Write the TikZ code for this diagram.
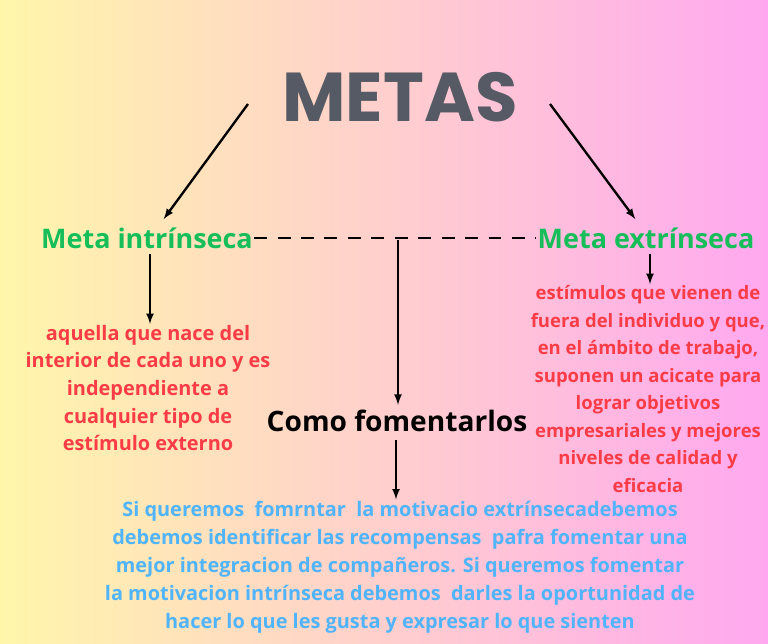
\documentclass[tikz,border=0pt]{standalone}
\usepackage{fontspec}
\setmainfont{Open Sans}
\newfontfamily\titlefont{Poppins}
\usetikzlibrary{positioning}
\definecolor{metagreen}{RGB}{22,190,90}
\definecolor{metared}{RGB}{250,60,70}
\definecolor{metablue}{RGB}{80,180,250}
\definecolor{titlegray}{RGB}{85,90,100}
\tikzset{>=latex}
\tikzset{
  head/.style={font=\bfseries\fontsize{23}{26}\selectfont, text=metagreen, inner sep=1pt},
  redtxt/.style={font=\bfseries\fontsize{17}{23.5}\selectfont, text=metared, align=center, inner sep=0pt},
  bluetxt/.style={font=\bfseries\fontsize{17}{24}\selectfont, text=metablue, align=center, inner sep=0pt},
  arr/.style={->, line width=2pt, shorten >=1pt}
}
\begin{document}
\begin{tikzpicture}[x=0.03cm, y=-0.03cm]
\shade[left color={rgb,255:red,255;green,246;blue,170}, right color={rgb,255:red,255;green,168;blue,240}] (0,0) rectangle (768,643);
\useasboundingbox (0,0) rectangle (768,643);

\node[font=\titlefont\bfseries\fontsize{59}{62}\selectfont, text=titlegray] (metas) at (400,97) {METAS};

\node[head] (intr) at (147,238) {Meta intrínseca};
\node[head] (extr) at (646,238) {Meta extrínseca};
\draw[line width=1.3pt, dash pattern=on 11pt off 9pt] (intr.east) -- (extr.west);

\node[redtxt] (intrtxt) at (148,388) {aquella que nace del\\interior de cada uno y es\\independiente a\\cualquier tipo de\\estímulo externo};
\node[redtxt, font=\bfseries\fontsize{15.8}{23.5}\selectfont] (extrtxt) at (648,389) {estímulos que vienen de\\fuera del individuo y que,\\en el ámbito de trabajo,\\suponen un acicate para\\lograr objetivos\\empresariales y mejores\\niveles de calidad y\\eficacia};

\node[font=\bfseries\fontsize{24}{28}\selectfont] (como) at (397,421) {Como fomentarlos};

\node[bluetxt] (blue) at (400,567) {Si queremos\ \ fomrntar\ \ la motivacio extrínsecadebemos\\debemos identificar las recompensas\ \ pafra fomentar una\\mejor integracion de compañeros. Si queremos fomentar\\la motivacion intrínseca debemos\ \ darles la oportunidad de\\hacer lo que les gusta y expresar lo que sienten};

\coordinate (t1) at (248,104);
\coordinate (t2) at (550,104);
\draw[arr] (t1) -- (163,220);
\draw[arr] (t2) -- (636,220);
\draw[arr] (150,254) -- (intrtxt.north -| 150,0);
\draw[arr] (650,254) -- (extrtxt.north -| 650,0);
\draw[arr] (398,240) -- (como.north -| 398,0);
\draw[arr] (396,440) -- (blue.north -| 396,0);
\end{tikzpicture}
\end{document}
